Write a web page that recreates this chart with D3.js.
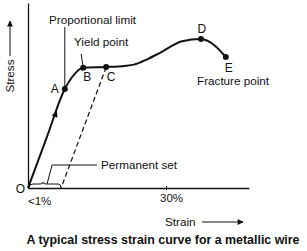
<!DOCTYPE html>
<html>
<head>
<meta charset="utf-8">
<script src="https://cdn.jsdelivr.net/npm/d3@7"></script>
<style>
  body { margin: 0; background: #fff; }
  text { font-family: Arial, "Liberation Sans", sans-serif; fill: #111; }
</style>
</head>
<body>
<div id="vis"></div>
<script>
// curve of the wire (strain %, stress arbitrary units)
var strain = [0, 4, 8, 9.6, 12, 17, 21, 23, 26, 29, 33.5, 37.6, 40.7, 43];
var stress = [0, 26.8, 53.5, 60, 65, 65.4, 66, 66.7, 69.7, 73.5, 79.3, 80.5, 76.8, 70.8];

// marked points
var pointNames = ['A', 'B', 'C', 'D', 'E'];
var pointStrain = [8, 12, 17, 37.6, 43];
var pointStress = [53.5, 65, 65.4, 80.5, 70.8];

var permanentSet = 7.2;   // strain left after unloading from C
var xTicks = [30];

var width = 307, height = 251;

var svg = d3.select('#vis')
    .append('svg')
    .attr('width', width)
    .attr('height', height);

var x = d3.scaleLinear().domain([0, 48]).range([28, 248.8]);
var y = d3.scaleLinear().domain([0, 100]).range([188, 3]);

var defs = svg.append('defs');
defs.append('marker')
    .attr('id', 'head')
    .attr('viewBox', '0 0 10 10')
    .attr('refX', 9).attr('refY', 5)
    .attr('markerWidth', 7).attr('markerHeight', 6)
    .attr('markerUnits', 'userSpaceOnUse')
    .attr('orient', 'auto')
    .append('path')
    .attr('d', 'M0,0L10,5L0,10z')
    .attr('fill', '#111');

// axes
var xAxis = d3.axisBottom(x).tickValues(xTicks)
    .tickSizeInner(2).tickSizeOuter(0).tickPadding(4)
    .tickFormat(function(d) { return d + '%'; });
var gx = svg.append('g')
    .attr('transform', 'translate(0,' + y(0) + ')')
    .call(xAxis);
gx.select('.domain').attr('stroke', '#111').attr('stroke-width', 1.3);
gx.selectAll('.tick line').attr('stroke', '#111').attr('y1', -2);
gx.selectAll('.tick text').attr('x', 5).style('font-size', '11.5px')
    .style('font-family', 'Arial, "Liberation Sans", sans-serif').attr('fill', '#111');

var gy = svg.append('g')
    .attr('transform', 'translate(' + x(0) + ',0)')
    .call(d3.axisLeft(y).tickValues([]).tickSizeOuter(0));
gy.select('.domain').attr('stroke', '#111').attr('stroke-width', 1.3);

svg.append('text').attr('x', 25).attr('y', y(0) + 1).attr('dy', '0.35em')
    .attr('text-anchor', 'end').style('font-size', '12px').text('O');
svg.append('text').attr('x', 28).attr('y', 201).attr('dy', '0.35em')
    .style('font-size', '11.5px').text('<1%');

// axis titles with arrows
svg.append('text')
    .attr('transform', 'translate(10,76) rotate(-90)')
    .attr('text-anchor', 'middle').attr('dy', '0.35em')
    .style('font-size', '11.7px').text('Stress');
svg.append('line')
    .attr('x1', 10).attr('y1', 56).attr('x2', 10).attr('y2', 21)
    .attr('stroke', '#111').attr('stroke-width', 1)
    .attr('marker-end', 'url(#head)');

svg.append('text').attr('x', 165).attr('y', 222).attr('dy', '0.35em')
    .style('font-size', '11.7px').text('Strain');
svg.append('line')
    .attr('x1', 202).attr('y1', 222).attr('x2', 243).attr('y2', 222)
    .attr('stroke', '#111').attr('stroke-width', 1)
    .attr('marker-end', 'url(#head)');

// unloading line from C
var c = pointNames.indexOf('C');
svg.append('line')
    .attr('x1', x(pointStrain[c])).attr('y1', y(pointStress[c]))
    .attr('x2', x(permanentSet)).attr('y2', y(0))
    .attr('stroke', '#111').attr('stroke-width', 1.2)
    .attr('stroke-dasharray', '5,3');

// main curve
var line = d3.line()
    .x(function(d, i) { return x(strain[i]); })
    .y(function(d, i) { return y(stress[i]); })
    .curve(d3.curveMonotoneX);
svg.append('path')
    .datum(strain)
    .attr('d', line)
    .attr('fill', 'none')
    .attr('stroke', '#111')
    .attr('stroke-width', 2);

// direction arrow on elastic part
var a = pointNames.indexOf('A');
var ax0 = x(0), ay0 = y(0), ax1 = x(pointStrain[a]), ay1 = y(pointStress[a]);
var ang = Math.atan2(ay1 - ay0, ax1 - ax0) * 180 / Math.PI;
var mx = ax0 + (ax1 - ax0) * 0.75, my = ay0 + (ay1 - ay0) * 0.75;
svg.append('path')
    .attr('d', 'M4,0L-3,-3L-3,3z')
    .attr('transform', 'translate(' + mx + ',' + my + ') rotate(' + ang + ')')
    .attr('fill', '#111');

// points
svg.selectAll('.pt')
    .data(pointNames)
    .enter()
    .append('circle')
    .attr('class', 'pt')
    .attr('cx', function(d, i) { return x(pointStrain[i]); })
    .attr('cy', function(d, i) { return y(pointStress[i]); })
    .attr('r', 3)
    .attr('fill', '#111');

var labelOffset = { A: [-10, 0], B: [4, 9], C: [5, 10], D: [1, -10], E: [3, 11] };
svg.selectAll('.pl')
    .data(pointNames)
    .enter()
    .append('text')
    .attr('class', 'pl')
    .attr('x', function(d, i) { return x(pointStrain[i]) + labelOffset[d][0]; })
    .attr('y', function(d, i) { return y(pointStress[i]) + labelOffset[d][1]; })
    .attr('dy', '0.35em')
    .attr('text-anchor', 'middle')
    .style('font-size', '12px')
    .text(function(d) { return d; });

// annotations
svg.append('line')
    .attr('x1', x(pointStrain[a])).attr('y1', y(pointStress[a]))
    .attr('x2', x(pointStrain[a])).attr('y2', 27)
    .attr('stroke', '#111').attr('stroke-width', 1);
svg.append('text').attr('x', 49).attr('y', 20).attr('dy', '0.35em')
    .style('font-size', '11.7px').text('Proportional limit');

var b = pointNames.indexOf('B');
svg.append('line')
    .attr('x1', x(pointStrain[b])).attr('y1', y(pointStress[b]))
    .attr('x2', x(pointStrain[b]) - 2).attr('y2', 54)
    .attr('stroke', '#111').attr('stroke-width', 1);
svg.append('text').attr('x', 74).attr('y', 42).attr('dy', '0.35em')
    .style('font-size', '11.7px').text('Yield point');

svg.append('text').attr('x', 197).attr('y', 81).attr('dy', '0.35em')
    .style('font-size', '11.7px').text('Fracture point');

// permanent set brace
var bx0 = x(0) + 1, bx1 = x(permanentSet), by = y(0), bm = (bx0 + bx1) / 2 - 2;
svg.append('path')
    .attr('d', 'M' + bx0 + ',' + by + 'Q' + bx0 + ',' + (by - 4) + ' ' + (bx0 + 4) + ',' + (by - 4) +
        'L' + (bm - 3) + ',' + (by - 4) + 'Q' + bm + ',' + (by - 4) + ' ' + bm + ',' + (by - 6) +
        'Q' + bm + ',' + (by - 4) + ' ' + (bm + 3) + ',' + (by - 4) +
        'L' + (bx1 - 3) + ',' + (by - 4) + 'Q' + bx1 + ',' + (by - 4) + ' ' + bx1 + ',' + by)
    .attr('fill', 'none').attr('stroke', '#111').attr('stroke-width', 1);
svg.append('path')
    .attr('d', 'M' + (bm + 4) + ',' + (by - 4) + 'L' + (bm + 9) + ',165L97,165')
    .attr('fill', 'none').attr('stroke', '#111').attr('stroke-width', 1);
svg.append('text').attr('x', 101).attr('y', 165).attr('dy', '0.35em')
    .style('font-size', '11.7px').text('Permanent set');

svg.append('text')
    .attr('x', 163).attr('y', 240).attr('dy', '0.35em')
    .attr('text-anchor', 'middle')
    .style('font-size', '12.4px').style('font-weight', 'bold')
    .text('A typical stress strain curve for a metallic wire');
</script>
</body>
</html>
